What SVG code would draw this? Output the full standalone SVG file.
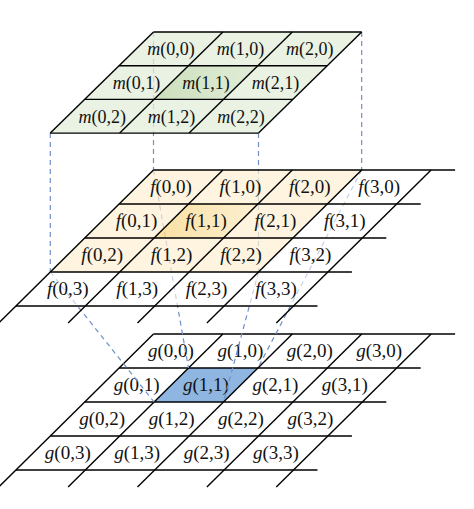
<svg xmlns="http://www.w3.org/2000/svg" width="474" height="509" viewBox="0 0 474 509">
<style>
.grid line{stroke:#000;stroke-width:1.4;stroke-linecap:butt}
.dash{stroke:#6f8fc6;stroke-width:1.2;stroke-dasharray:5 4;fill:none}
.lbl{font-family:"Liberation Serif","Times New Roman",serif;font-size:19px;fill:#111;text-anchor:middle}
.lbl tspan.v{font-style:italic}
.ml{font-size:18px}
.mc{fill:#e3eeda;fill-opacity:0.75}
.fc{fill:#fdf0d3;fill-opacity:0.7}
.wc{fill:#fff;fill-opacity:0.6}
.gc{fill:#fff}
.gb{fill:#8fb5e1}
</style>
<defs>
<linearGradient id="gm" x1="0" y1="0" x2="1" y2="0"><stop offset="0" stop-color="#c3dab0"/><stop offset="1" stop-color="#dcead1"/></linearGradient>
<linearGradient id="gf" x1="0" y1="0" x2="1" y2="0"><stop offset="0" stop-color="#f8d88a"/><stop offset="1" stop-color="#fcecc6"/></linearGradient>
</defs>

<!-- bottom layer g -->
<g id="layer-g">
<g id="g00"><polygon class="gc" points="153.5,334 222.9,334 188.5,368 119.1,368"/><text class="lbl" x="171" y="357.3"><tspan class="v">g</tspan>(0,0)</text></g>
<g id="g10"><polygon class="gc" points="222.9,334 292.3,334 257.9,368 188.5,368"/><text class="lbl" x="240.4" y="357.3"><tspan class="v">g</tspan>(1,0)</text></g>
<g id="g20"><polygon class="gc" points="292.3,334 361.7,334 327.3,368 257.9,368"/><text class="lbl" x="309.8" y="357.3"><tspan class="v">g</tspan>(2,0)</text></g>
<g id="g30"><polygon class="gc" points="361.7,334 431.1,334 396.7,368 327.3,368"/><text class="lbl" x="379.2" y="357.3"><tspan class="v">g</tspan>(3,0)</text></g>
<g id="g01"><polygon class="gc" points="119.1,368 188.5,368 154.1,402 84.7,402"/><text class="lbl" x="136.6" y="391.3"><tspan class="v">g</tspan>(0,1)</text></g>
<g id="g11"><polygon class="gb" points="188.5,368 257.9,368 223.5,402 154.1,402"/><text class="lbl" x="206" y="391.3"><tspan class="v">g</tspan>(1,1)</text></g>
<g id="g21"><polygon class="gc" points="257.9,368 327.3,368 292.9,402 223.5,402"/><text class="lbl" x="275.4" y="391.3"><tspan class="v">g</tspan>(2,1)</text></g>
<g id="g31"><polygon class="gc" points="327.3,368 396.7,368 362.3,402 292.9,402"/><text class="lbl" x="344.8" y="391.3"><tspan class="v">g</tspan>(3,1)</text></g>
<g id="g02"><polygon class="gc" points="84.7,402 154.1,402 119.7,436 50.3,436"/><text class="lbl" x="102.2" y="425.3"><tspan class="v">g</tspan>(0,2)</text></g>
<g id="g12"><polygon class="gc" points="154.1,402 223.5,402 189.1,436 119.7,436"/><text class="lbl" x="171.6" y="425.3"><tspan class="v">g</tspan>(1,2)</text></g>
<g id="g22"><polygon class="gc" points="223.5,402 292.9,402 258.5,436 189.1,436"/><text class="lbl" x="241" y="425.3"><tspan class="v">g</tspan>(2,2)</text></g>
<g id="g32"><polygon class="gc" points="292.9,402 362.3,402 327.9,436 258.5,436"/><text class="lbl" x="310.4" y="425.3"><tspan class="v">g</tspan>(3,2)</text></g>
<g id="g03"><polygon class="gc" points="50.3,436 119.7,436 85.3,470 15.9,470"/><text class="lbl" x="67.8" y="459.3"><tspan class="v">g</tspan>(0,3)</text></g>
<g id="g13"><polygon class="gc" points="119.7,436 189.1,436 154.7,470 85.3,470"/><text class="lbl" x="137.2" y="459.3"><tspan class="v">g</tspan>(1,3)</text></g>
<g id="g23"><polygon class="gc" points="189.1,436 258.5,436 224.1,470 154.7,470"/><text class="lbl" x="206.6" y="459.3"><tspan class="v">g</tspan>(2,3)</text></g>
<g id="g33"><polygon class="gc" points="258.5,436 327.9,436 293.5,470 224.1,470"/><text class="lbl" x="276" y="459.3"><tspan class="v">g</tspan>(3,3)</text></g>
<g class="grid">
<line x1="153.5" y1="334" x2="455.1" y2="334"/>
<line x1="119.1" y1="368" x2="420.7" y2="368"/>
<line x1="84.7" y1="402" x2="386.3" y2="402"/>
<line x1="50.3" y1="436" x2="351.9" y2="436"/>
<line x1="15.9" y1="470" x2="317.5" y2="470"/>
<line x1="153.5" y1="334" x2="-1.3" y2="487"/>
<line x1="222.9" y1="334" x2="68.1" y2="487"/>
<line x1="292.3" y1="334" x2="137.5" y2="487"/>
<line x1="361.7" y1="334" x2="206.9" y2="487"/>
<line x1="431.1" y1="334" x2="276.3" y2="487"/>
</g>
</g>

<!-- connectors -->
<g id="connectors">
<line class="dash" x1="153.5" y1="32" x2="153.5" y2="170"/>
<line class="dash" x1="361.7" y1="32" x2="361.7" y2="170"/>
<line class="dash" x1="50.3" y1="133.1" x2="50.3" y2="272"/>
<line class="dash" x1="258.5" y1="133.1" x2="258.5" y2="272"/>
<line class="dash" x1="153.5" y1="170" x2="188.5" y2="368"/>
<line class="dash" x1="361.7" y1="170" x2="257.9" y2="368"/>
<line class="dash" x1="50.3" y1="272" x2="154.1" y2="402"/>
<line class="dash" x1="258.5" y1="272" x2="223.5" y2="402"/>
</g>

<!-- middle layer f -->
<g id="layer-f">
<g id="f00"><polygon class="fc" points="153.5,170 222.9,170 188.5,204 119.1,204"/><text class="lbl" x="171" y="193.3"><tspan class="v">f</tspan>(0,0)</text></g>
<g id="f10"><polygon class="fc" points="222.9,170 292.3,170 257.9,204 188.5,204"/><text class="lbl" x="240.4" y="193.3"><tspan class="v">f</tspan>(1,0)</text></g>
<g id="f20"><polygon class="fc" points="292.3,170 361.7,170 327.3,204 257.9,204"/><text class="lbl" x="309.8" y="193.3"><tspan class="v">f</tspan>(2,0)</text></g>
<g id="f30"><polygon class="wc" points="361.7,170 431.1,170 396.7,204 327.3,204"/><text class="lbl" x="379.2" y="193.3"><tspan class="v">f</tspan>(3,0)</text></g>
<g id="f01"><polygon class="fc" points="119.1,204 188.5,204 154.1,238 84.7,238"/><text class="lbl" x="136.6" y="227.3"><tspan class="v">f</tspan>(0,1)</text></g>
<g id="f11"><polygon fill="url(#gf)" fill-opacity="0.8" points="188.5,204 257.9,204 223.5,238 154.1,238"/><text class="lbl" x="206" y="227.3"><tspan class="v">f</tspan>(1,1)</text></g>
<g id="f21"><polygon class="fc" points="257.9,204 327.3,204 292.9,238 223.5,238"/><text class="lbl" x="275.4" y="227.3"><tspan class="v">f</tspan>(2,1)</text></g>
<g id="f31"><polygon class="wc" points="327.3,204 396.7,204 362.3,238 292.9,238"/><text class="lbl" x="344.8" y="227.3"><tspan class="v">f</tspan>(3,1)</text></g>
<g id="f02"><polygon class="fc" points="84.7,238 154.1,238 119.7,272 50.3,272"/><text class="lbl" x="102.2" y="261.3"><tspan class="v">f</tspan>(0,2)</text></g>
<g id="f12"><polygon class="fc" points="154.1,238 223.5,238 189.1,272 119.7,272"/><text class="lbl" x="171.6" y="261.3"><tspan class="v">f</tspan>(1,2)</text></g>
<g id="f22"><polygon class="fc" points="223.5,238 292.9,238 258.5,272 189.1,272"/><text class="lbl" x="241" y="261.3"><tspan class="v">f</tspan>(2,2)</text></g>
<g id="f32"><polygon class="wc" points="292.9,238 362.3,238 327.9,272 258.5,272"/><text class="lbl" x="310.4" y="261.3"><tspan class="v">f</tspan>(3,2)</text></g>
<g id="f03"><polygon class="wc" points="50.3,272 119.7,272 85.3,306 15.9,306"/><text class="lbl" x="67.8" y="295.3"><tspan class="v">f</tspan>(0,3)</text></g>
<g id="f13"><polygon class="wc" points="119.7,272 189.1,272 154.7,306 85.3,306"/><text class="lbl" x="137.2" y="295.3"><tspan class="v">f</tspan>(1,3)</text></g>
<g id="f23"><polygon class="wc" points="189.1,272 258.5,272 224.1,306 154.7,306"/><text class="lbl" x="206.6" y="295.3"><tspan class="v">f</tspan>(2,3)</text></g>
<g id="f33"><polygon class="wc" points="258.5,272 327.9,272 293.5,306 224.1,306"/><text class="lbl" x="276" y="295.3"><tspan class="v">f</tspan>(3,3)</text></g>
<g class="grid">
<line x1="153.5" y1="170" x2="455.1" y2="170"/>
<line x1="119.1" y1="204" x2="420.7" y2="204"/>
<line x1="84.7" y1="238" x2="386.3" y2="238"/>
<line x1="50.3" y1="272" x2="351.9" y2="272"/>
<line x1="15.9" y1="306" x2="317.5" y2="306"/>
<line x1="153.5" y1="170" x2="-1.3" y2="323"/>
<line x1="222.9" y1="170" x2="68.1" y2="323"/>
<line x1="292.3" y1="170" x2="137.5" y2="323"/>
<line x1="361.7" y1="170" x2="206.9" y2="323"/>
<line x1="431.1" y1="170" x2="276.3" y2="323"/>
</g>
</g>

<!-- top layer m -->
<g id="layer-m">
<g id="m00"><polygon class="mc" points="153.5,32 222.9,32 188.5,65.7 119.1,65.7"/><text class="lbl ml" x="171" y="55.2"><tspan class="v">m</tspan>(0,0)</text></g>
<g id="m10"><polygon class="mc" points="222.9,32 292.3,32 257.9,65.7 188.5,65.7"/><text class="lbl ml" x="240.4" y="55.2"><tspan class="v">m</tspan>(1,0)</text></g>
<g id="m20"><polygon class="mc" points="292.3,32 361.7,32 327.3,65.7 257.9,65.7"/><text class="lbl ml" x="309.8" y="55.2"><tspan class="v">m</tspan>(2,0)</text></g>
<g id="m01"><polygon class="mc" points="119.1,65.7 188.5,65.7 154.1,99.4 84.7,99.4"/><text class="lbl ml" x="136.6" y="88.9"><tspan class="v">m</tspan>(0,1)</text></g>
<g id="m11"><polygon fill="url(#gm)" fill-opacity="0.85" points="188.5,65.7 257.9,65.7 223.5,99.4 154.1,99.4"/><text class="lbl ml" x="206" y="88.9"><tspan class="v">m</tspan>(1,1)</text></g>
<g id="m21"><polygon class="mc" points="257.9,65.7 327.3,65.7 292.9,99.4 223.5,99.4"/><text class="lbl ml" x="275.4" y="88.9"><tspan class="v">m</tspan>(2,1)</text></g>
<g id="m02"><polygon class="mc" points="84.7,99.4 154.1,99.4 119.7,133.1 50.3,133.1"/><text class="lbl ml" x="102.2" y="122.6"><tspan class="v">m</tspan>(0,2)</text></g>
<g id="m12"><polygon class="mc" points="154.1,99.4 223.5,99.4 189.1,133.1 119.7,133.1"/><text class="lbl ml" x="171.6" y="122.6"><tspan class="v">m</tspan>(1,2)</text></g>
<g id="m22"><polygon class="mc" points="223.5,99.4 292.9,99.4 258.5,133.1 189.1,133.1"/><text class="lbl ml" x="241" y="122.6"><tspan class="v">m</tspan>(2,2)</text></g>
<g class="grid">
<line x1="153.5" y1="32" x2="361.7" y2="32"/>
<line x1="119.1" y1="65.7" x2="327.3" y2="65.7"/>
<line x1="84.7" y1="99.4" x2="292.9" y2="99.4"/>
<line x1="50.3" y1="133.1" x2="258.5" y2="133.1"/>
<line x1="153.5" y1="32" x2="50.3" y2="133.1"/>
<line x1="222.9" y1="32" x2="119.7" y2="133.1"/>
<line x1="292.3" y1="32" x2="189.1" y2="133.1"/>
<line x1="361.7" y1="32" x2="258.5" y2="133.1"/>
</g>
</g>
</svg>
